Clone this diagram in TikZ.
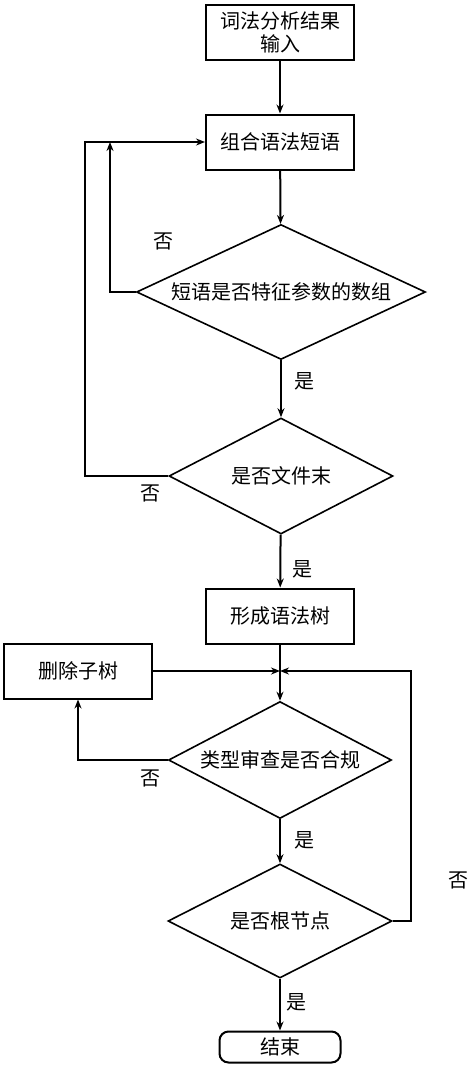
\documentclass[tikz,border=0pt]{standalone}
\usepackage{fontspec}
\newfontfamily\cjk{Noto Sans CJK SC}
\usetikzlibrary{arrows.meta,shapes.geometric}

\tikzset{
  box/.style={draw, line width=2pt, minimum width=148pt, minimum height=55pt, inner sep=0pt, align=center},
  decision/.style={draw, diamond, line width=1.6pt, aspect=2, inner sep=0pt},
  terminal/.style={draw, line width=2pt, rounded corners=9pt, minimum width=121pt, minimum height=31pt, inner sep=0pt},
  yesno/.style={inner sep=0pt},
  arrow/.style={line width=2pt, -{Stealth[length=9pt,width=7pt]}},
  link/.style={line width=2pt}
}

\begin{document}
\begin{tikzpicture}[x=1pt, y=-1pt, font=\cjk\fontsize{20}{23}\selectfont]
    \useasboundingbox (0,0) rectangle (474,1071);

    % main column
    \node[box] (input) at (280,32) {词法分析结果\\输入};
    \node[box] (phrase) at (280,142) {组合语法短语};
    \node[decision, minimum width=289pt, minimum height=135pt] (isarray) at (281,292) {短语是否特征参数的数组};
    \node[decision, minimum width=224pt, minimum height=116pt] (iseof) at (281,476) {是否文件末};
    \node[box] (tree) at (280,616) {形成语法树};
    \node[box] (delsub) at (78,671) {删除子树};
    \node[decision, minimum width=223pt, minimum height=117pt] (typeok) at (280,760) {类型审查是否合规};
    \node[decision, minimum width=224pt, minimum height=114pt] (isroot) at (280,921) {是否根节点};
    \node[terminal] (finish) at (280,1047) {结束};

    % loop corners
    \coordinate (loopL) at (85,142);
    \coordinate (loopM) at (110,142);
    \coordinate (join) at (280,671);
    \coordinate (loopR) at (411,671);

    % forward arrows
    \draw[arrow] (input) -- (phrase);
    \draw[arrow] (phrase) -- (isarray);
    \draw[arrow] (isarray) -- (iseof);
    \draw[arrow] (iseof) -- (tree);
    \draw[link] (tree) -- (join);
    \draw[arrow] (join) -- (typeok);
    \draw[arrow] (typeok) -- (isroot);
    \draw[arrow] (isroot) -- (finish);

    % back loops
    \draw[arrow] (isarray.west) -| (loopM);
    \draw[arrow] (iseof.west) -| (loopL) -- (phrase.west);
    \draw[arrow] (delsub.east) -- (join);
    \draw[arrow] (typeok.west) -| (delsub.south);
    \draw[arrow] (isroot.east) -| (loopR) -- (join);

    % branch labels
    \node[yesno] (no1) at (163,241) {否};
    \node[yesno] (yes1) at (304,381) {是};
    \node[yesno] (no2) at (150,493) {否};
    \node[yesno] (yes2) at (302,569) {是};
    \node[yesno] (no3) at (150,778) {否};
    \node[yesno] (yes3) at (304,840) {是};
    \node[yesno] (no4) at (458,880) {否};
    \node[yesno] (yes4) at (296,1002) {是};
\end{tikzpicture}
\end{document}
